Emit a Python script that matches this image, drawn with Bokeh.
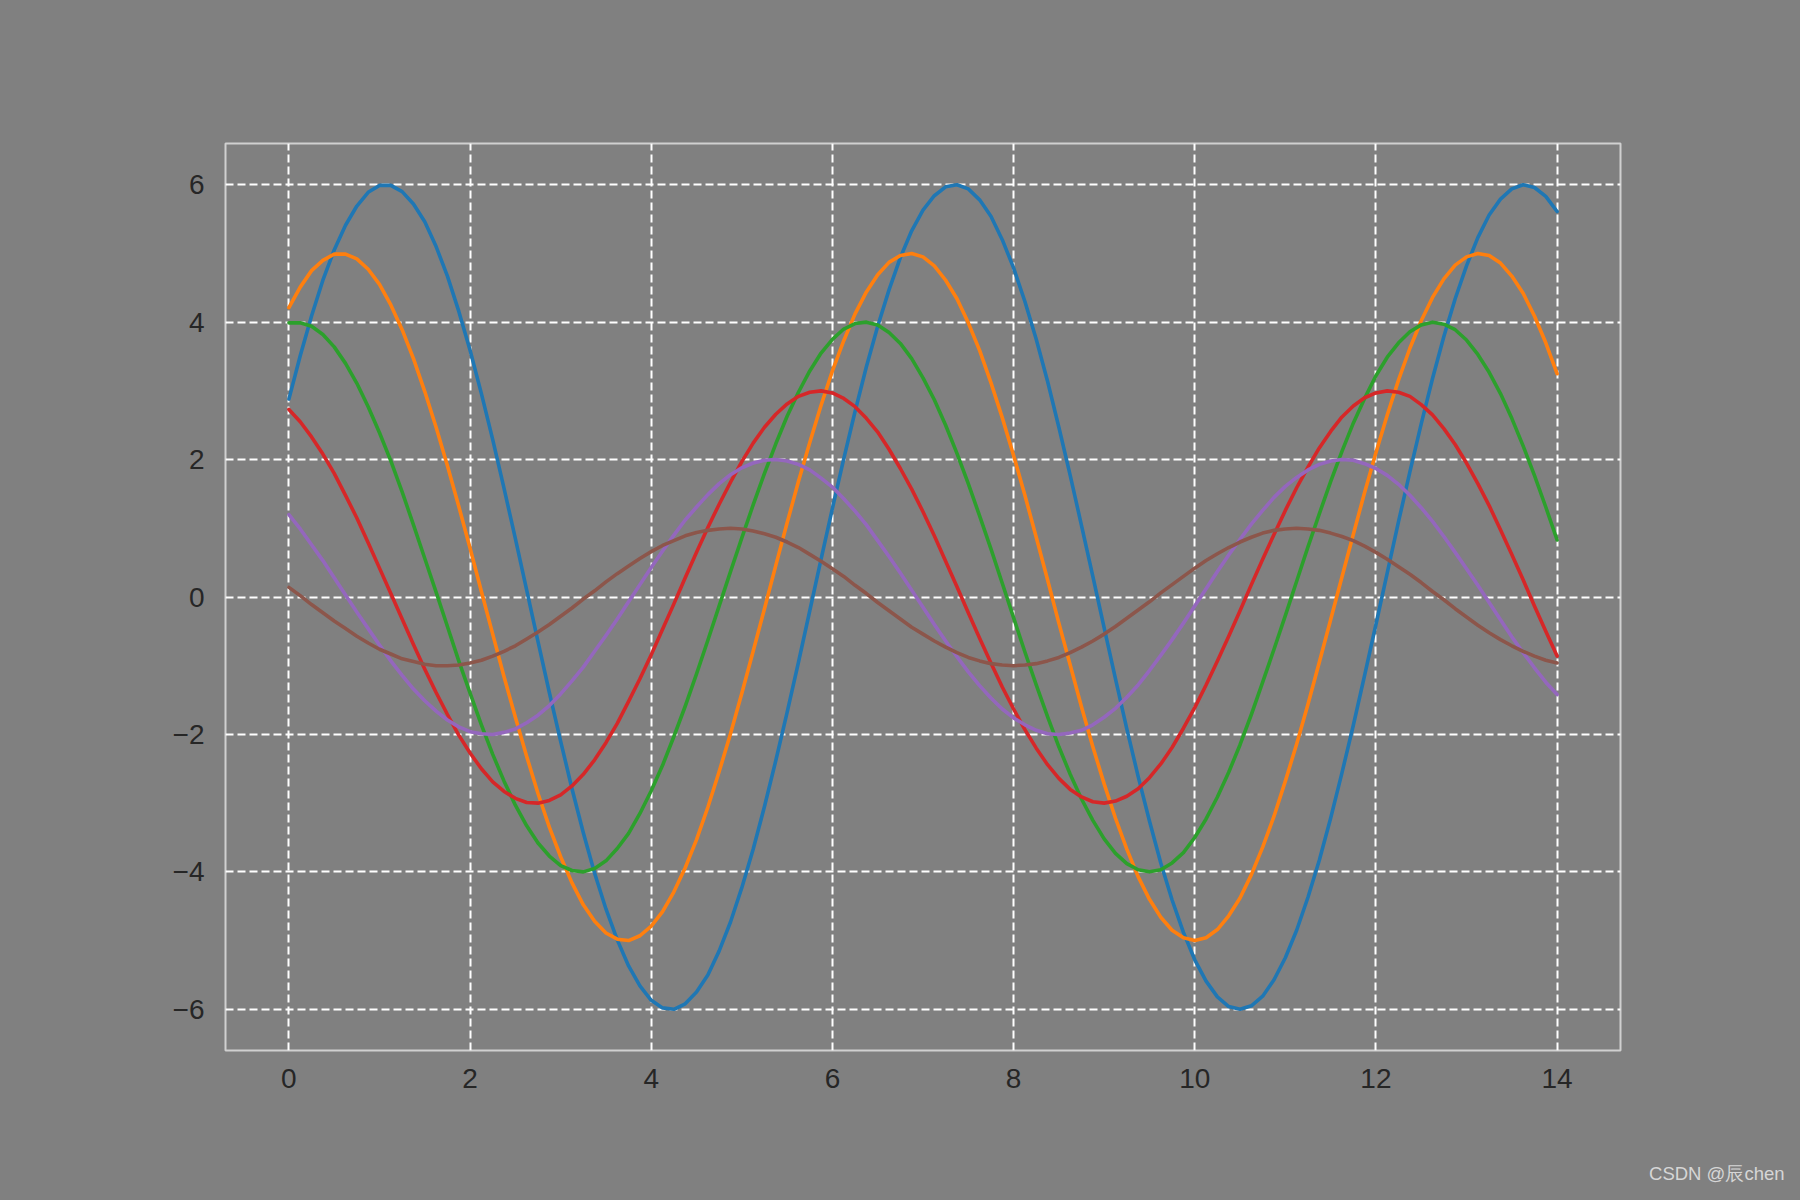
from bokeh.plotting import figure
from bokeh.models import FixedTicker
from bokeh.layouts import column
from bokeh.embed import file_html
from bokeh.resources import INLINE

# ---- data ----
x = [0, 0.125, 0.25, 0.375, 0.5, 0.625, 0.75, 0.875,
     1, 1.125, 1.25, 1.375, 1.5, 1.625, 1.75, 1.875,
     2, 2.125, 2.25, 2.375, 2.5, 2.625, 2.75, 2.875,
     3, 3.125, 3.25, 3.375, 3.5, 3.625, 3.75, 3.875,
     4, 4.125, 4.25, 4.375, 4.5, 4.625, 4.75, 4.875,
     5, 5.125, 5.25, 5.375, 5.5, 5.625, 5.75, 5.875,
     6, 6.125, 6.25, 6.375, 6.5, 6.625, 6.75, 6.875,
     7, 7.125, 7.25, 7.375, 7.5, 7.625, 7.75, 7.875,
     8, 8.125, 8.25, 8.375, 8.5, 8.625, 8.75, 8.875,
     9, 9.125, 9.25, 9.375, 9.5, 9.625, 9.75, 9.875,
     10, 10.125, 10.25, 10.375, 10.5, 10.625, 10.75, 10.875,
     11, 11.125, 11.25, 11.375, 11.5, 11.625, 11.75, 11.875,
     12, 12.125, 12.25, 12.375, 12.5, 12.625, 12.75, 12.875,
     13, 13.125, 13.25, 13.375, 13.5, 13.625, 13.75, 13.875,
     14]

blue = [2.88, 3.51, 4.09, 4.61, 5.05, 5.41, 5.69, 5.89,
        5.99, 5.99, 5.90, 5.72, 5.46, 5.10, 4.67, 4.16,
        3.59, 2.96, 2.29, 1.58, 0.85, 0.10, -0.65, -1.39,
        -2.10, -2.79, -3.43, -4.02, -4.54, -4.99, -5.37, -5.66,
        -5.87, -5.98, -6.00, -5.92, -5.75, -5.50, -5.15, -4.73,
        -4.23, -3.67, -3.05, -2.38, -1.68, -0.95, -0.20, 0.55,
        1.29, 2.01, 2.70, 3.35, 3.94, 4.47, 4.94, 5.33,
        5.63, 5.84, 5.97, 6.00, 5.94, 5.78, 5.54, 5.20,
        4.79, 4.30, 3.75, 3.14, 2.47, 1.77, 1.04, 0.30,
        -0.45, -1.19, -1.92, -2.61, -3.26, -3.87, -4.41, -4.88,
        -5.28, -5.59, -5.82, -5.96, -6.00, -5.95, -5.81, -5.57,
        -5.25, -4.85, -4.37, -3.83, -3.22, -2.56, -1.87, -1.14,
        -0.40, 0.35, 1.10, 1.82, 2.52, 3.18, 3.79, 4.34,
        4.82, 5.23, 5.56, 5.79, 5.94, 6.00, 5.96, 5.83,
        5.61]
orange = [4.21, 4.51, 4.75, 4.90, 4.99, 4.99, 4.92, 4.77,
          4.55, 4.25, 3.89, 3.47, 2.99, 2.47, 1.91, 1.32,
          0.71, 0.08, -0.54, -1.16, -1.75, -2.32, -2.86, -3.35,
          -3.78, -4.16, -4.48, -4.72, -4.89, -4.98, -5.00, -4.93,
          -4.79, -4.58, -4.29, -3.94, -3.53, -3.06, -2.54, -1.99,
          -1.40, -0.79, -0.17, 0.46, 1.08, 1.68, 2.25, 2.79,
          3.29, 3.73, 4.12, 4.44, 4.69, 4.87, 4.97, 5.00,
          4.95, 4.82, 4.61, 4.34, 3.99, 3.59, 3.12, 2.61,
          2.06, 1.48, 0.87, 0.25, -0.38, -0.99, -1.60, -2.18,
          -2.72, -3.22, -3.67, -4.07, -4.40, -4.66, -4.85, -4.96,
          -5.00, -4.96, -4.84, -4.64, -4.38, -4.04, -3.64, -3.19,
          -2.68, -2.14, -1.56, -0.95, -0.33, 0.29, 0.91, 1.52,
          2.10, 2.65, 3.16, 3.62, 4.02, 4.36, 4.63, 4.83,
          4.95, 5.00, 4.97, 4.86, 4.67, 4.42, 4.09, 3.70,
          3.25]
green = [3.99, 3.99, 3.94, 3.82, 3.64, 3.40, 3.11, 2.77,
         2.39, 1.98, 1.53, 1.05, 0.56, 0.07, -0.43, -0.93,
         -1.40, -1.86, -2.29, -2.68, -3.03, -3.33, -3.58, -3.77,
         -3.91, -3.98, -4.00, -3.95, -3.84, -3.66, -3.44, -3.15,
         -2.82, -2.45, -2.03, -1.59, -1.12, -0.63, -0.13, 0.37,
         0.86, 1.34, 1.80, 2.23, 2.63, 2.98, 3.29, 3.55,
         3.75, 3.90, 3.98, 4.00, 3.96, 3.85, 3.69, 3.47,
         3.19, 2.87, 2.50, 2.09, 1.65, 1.18, 0.70, 0.20,
         -0.30, -0.80, -1.28, -1.74, -2.18, -2.58, -2.94, -3.25,
         -3.52, -3.73, -3.88, -3.97, -4.00, -3.97, -3.87, -3.72,
         -3.50, -3.23, -2.91, -2.55, -2.15, -1.71, -1.24, -0.76,
         -0.27, 0.23, 0.73, 1.21, 1.68, 2.12, 2.53, 2.89,
         3.22, 3.49, 3.70, 3.86, 3.96, 4.00, 3.97, 3.89,
         3.74, 3.53, 3.27, 2.96, 2.60, 2.20, 1.77, 1.31,
         0.83]
red = [2.73, 2.55, 2.33, 2.08, 1.80, 1.48, 1.15, 0.79,
       0.42, 0.05, -0.32, -0.69, -1.05, -1.39, -1.71, -2.01,
       -2.27, -2.50, -2.69, -2.83, -2.93, -2.99, -3.00, -2.96,
       -2.88, -2.75, -2.58, -2.37, -2.12, -1.84, -1.52, -1.19,
       -0.84, -0.47, -0.10, 0.28, 0.65, 1.01, 1.35, 1.67,
       1.97, 2.24, 2.47, 2.66, 2.81, 2.92, 2.98, 3.00,
       2.97, 2.89, 2.77, 2.60, 2.40, 2.15, 1.87, 1.57,
       1.24, 0.89, 0.52, 0.15, -0.23, -0.60, -0.96, -1.31,
       -1.63, -1.93, -2.20, -2.44, -2.64, -2.80, -2.91, -2.98,
       -3.00, -2.97, -2.90, -2.79, -2.63, -2.43, -2.19, -1.91,
       -1.61, -1.28, -0.93, -0.57, -0.20, 0.18, 0.55, 0.91,
       1.26, 1.59, 1.89, 2.17, 2.41, 2.62, 2.78, 2.90,
       2.97, 3.00, 2.98, 2.92, 2.80, 2.65, 2.45, 2.22,
       1.95, 1.65, 1.33, 0.98, 0.62, 0.25, -0.13, -0.50,
       -0.86]
purple = [1.20, 0.99, 0.76, 0.53, 0.28, 0.03, -0.22, -0.46,
          -0.70, -0.93, -1.14, -1.34, -1.51, -1.66, -1.79, -1.89,
          -1.96, -1.99, -2.00, -1.97, -1.92, -1.83, -1.72, -1.58,
          -1.41, -1.22, -1.02, -0.79, -0.56, -0.32, -0.07, 0.18,
          0.43, 0.67, 0.90, 1.12, 1.31, 1.49, 1.65, 1.78,
          1.88, 1.95, 1.99, 2.00, 1.98, 1.93, 1.85, 1.73,
          1.60, 1.43, 1.25, 1.05, 0.82, 0.59, 0.35, 0.10,
          -0.15, -0.40, -0.64, -0.87, -1.09, -1.29, -1.47, -1.63,
          -1.76, -1.86, -1.94, -1.99, -2.00, -1.98, -1.94, -1.86,
          -1.75, -1.62, -1.46, -1.28, -1.07, -0.85, -0.62, -0.38,
          -0.13, 0.12, 0.37, 0.61, 0.84, 1.06, 1.26, 1.45,
          1.61, 1.74, 1.85, 1.93, 1.98, 2.00, 1.99, 1.94,
          1.87, 1.77, 1.64, 1.48, 1.30, 1.10, 0.88, 0.65,
          0.41, 0.17, -0.08, -0.33, -0.58, -0.81, -1.03, -1.24,
          -1.42]
brown = [0.14, 0.02, -0.11, -0.23, -0.35, -0.46, -0.57, -0.67,
         -0.76, -0.83, -0.90, -0.94, -0.98, -1.00, -1.00, -0.99,
         -0.96, -0.92, -0.86, -0.79, -0.71, -0.61, -0.51, -0.40,
         -0.28, -0.16, -0.03, 0.09, 0.22, 0.34, 0.45, 0.56,
         0.66, 0.75, 0.82, 0.89, 0.94, 0.97, 0.99, 1.00,
         0.99, 0.96, 0.92, 0.87, 0.80, 0.72, 0.62, 0.52,
         0.41, 0.30, 0.17, 0.05, -0.08, -0.20, -0.32, -0.44,
         -0.54, -0.64, -0.73, -0.81, -0.88, -0.93, -0.97, -0.99,
         -1.00, -0.99, -0.97, -0.93, -0.88, -0.81, -0.73, -0.64,
         -0.54, -0.43, -0.31, -0.19, -0.07, 0.06, 0.18, 0.30,
         0.42, 0.53, 0.63, 0.72, 0.80, 0.87, 0.93, 0.97,
         0.99, 1.00, 0.99, 0.97, 0.93, 0.88, 0.82, 0.74,
         0.65, 0.55, 0.44, 0.33, 0.21, 0.08, -0.04, -0.17,
         -0.29, -0.41, -0.52, -0.62, -0.71, -0.79, -0.86, -0.92,
         -0.96]

series = [blue, orange, green, red, purple, brown]
colors = ["#1f77b4", "#ff7f0e", "#2ca02c", "#d62728", "#9467bd", "#8c564b"]

x_ticks = [0, 2, 4, 6, 8, 10, 12, 14]
y_ticks = [-6, -4, -2, 0, 2, 4, 6]
y_tick_labels = {-6: "\u22126", -4: "\u22124", -2: "\u22122", 0: "0", 2: "2", 4: "4", 6: "6"}
watermark = "CSDN @辰chen"

BG = "#808080"
FONT = "Liberation Sans"

# ---- main chart ----
p = figure(width=1784, height=1150, output_backend="svg", toolbar_location=None,
           x_range=(-0.7, 14.7), y_range=(-6.6, 6.6),
           min_border_left=225, min_border_right=164,
           min_border_top=143, min_border_bottom=100)

p.background_fill_color = BG
p.border_fill_color = BG
p.outline_line_color = "#d0d0d0"
p.outline_line_width = 2

for ys, c in zip(series, colors):
    p.line(x, ys, line_color=c, line_width=3.6, line_join="round", line_cap="round")

for ax in (p.xaxis, p.yaxis):
    ax.axis_line_color = None
    ax.major_tick_line_color = None
    ax.minor_tick_line_color = None
    ax.major_tick_out = 0
    ax.major_tick_in = 0
    ax.major_label_text_font = FONT
    ax.major_label_text_font_size = "28px"
    ax.major_label_text_color = "#262626"

p.xaxis.ticker = FixedTicker(ticks=x_ticks)
p.yaxis.ticker = FixedTicker(ticks=y_ticks)
p.yaxis.major_label_overrides = y_tick_labels
p.xaxis.major_label_standoff = 18
p.yaxis.major_label_standoff = 21

for g in (p.xgrid, p.ygrid):
    g.grid_line_color = "white"
    g.grid_line_width = 2
    g.grid_line_dash = "8 4"
    g.grid_line_alpha = 1.0

# ---- bottom strip carrying the watermark as a right-aligned title ----
w = figure(width=1784, height=34, output_backend="svg", toolbar_location=None,
           title=watermark, title_location="below",
           x_axis_location=None, y_axis_location=None, min_border=0)
w.background_fill_color = BG
w.border_fill_color = BG
w.outline_line_color = None
w.xgrid.visible = False
w.ygrid.visible = False
w.title.align = "right"
w.title.vertical_align = "bottom"
w.title.offset = -164
w.title.standoff = 1
w.title.text_font = FONT
w.title.text_font_size = "18.5px"
w.title.text_font_style = "normal"
w.title.text_color = "#d6d6d6"

page = column(p, w, spacing=0)

html = file_html(page, INLINE)
html = html.replace("</head>", "<style>body{background:#808080;}</style></head>", 1)
open("out.html", "w").write(html)
